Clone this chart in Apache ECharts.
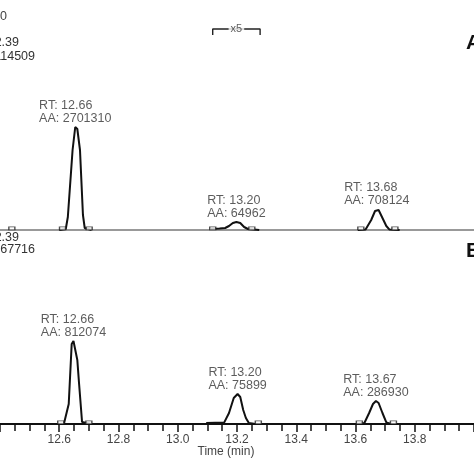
<!DOCTYPE html>
<html lang="en">
<head>
    <meta charset="UTF-8">
    <title>Chromatogram</title>
    <script src="https://cdn.jsdelivr.net/npm/echarts@6/dist/echarts.min.js"></script>
    <style>
        html, body { margin: 0; padding: 0; background: #fff; }
        #main { width: 474px; height: 474px; }
    </style>
</head>
<body>
<div id="main"></div>
<script type="text/javascript">
    // upper trace (A) - time (min) / intensity (% of panel)
    var timeA1 = [12.600, 12.622, 12.629, 12.645, 12.654, 12.661, 12.670, 12.680, 12.686, 12.709];
    var valueA1 = [0, 0.5, 6.5, 40, 51.5, 50.5, 40, 7.5, 1, 0];
    var timeA2 = [13.112, 13.141, 13.160, 13.173, 13.186, 13.198, 13.211, 13.224, 13.237, 13.256, 13.275];
    var valueA2 = [0.5, 0.7, 1, 2, 3.5, 4, 3.5, 1.5, 0.5, 0.3, 0];
    var timeA3 = [13.608, 13.634, 13.653, 13.666, 13.672, 13.678, 13.691, 13.704, 13.714, 13.749];
    var valueA3 = [0, 0.3, 5, 9.5, 10.5, 10, 6, 2, 0.3, 0];

    // lower trace (B)
    var timeB1 = [12.590, 12.616, 12.632, 12.642, 12.648, 12.654, 12.661, 12.667, 12.677, 12.709];
    var valueB1 = [0, 0.3, 10, 40, 41.5, 41.5, 32, 20, 1, 0];
    var timeB2 = [13.096, 13.157, 13.173, 13.189, 13.202, 13.211, 13.221, 13.230, 13.240, 13.262];
    var valueB2 = [0.5, 0.8, 5.5, 13, 15, 13.5, 7, 3, 0.5, 0];
    var timeB3 = [13.602, 13.630, 13.646, 13.659, 13.669, 13.678, 13.691, 13.704, 13.720];
    var valueB3 = [0, 0.5, 5.5, 10, 11.5, 10.5, 5.5, 0.8, 0];

    // peak labels
    var rtA = ['12.66', '13.20', '13.68'];
    var areaA = ['2701310', '64962', '708124'];
    var rtB = ['12.66', '13.20', '13.67'];
    var areaB = ['812074', '75899', '286930'];

    // integration start/end markers
    var markTimesA = [12.440, 12.611, 12.701, 13.118, 13.250, 13.618, 13.733];
    var markTimesB = [12.605, 12.700, 13.272, 13.613, 13.728];

    // x5 zoomed region of trace A
    var foldRange = [13.118, 13.278];
    var foldLabel = 'x5';

    var xMin = 12.4, xMax = 14.0, xStep = 0.2;

    var font = '"Liberation Sans", Arial, sans-serif';
    var clear = 'rgba(0,0,0,0)';
    var chart = echarts.init(document.getElementById('main'));

    function pairs(t, v) {
        return t.map(function (x, i) { return [x, v[i]]; });
    }
    function apex(t, v) {
        var k = v.indexOf(Math.max.apply(null, v));
        return [t[k], v[k]];
    }
    function traceSeries(t, v, idx) {
        return {
            type: 'line', xAxisIndex: idx, yAxisIndex: idx,
            data: pairs(t, v), showSymbol: false, smooth: false,
            lineStyle: {color: '#111', width: 2}, z: 3, silent: true
        };
    }
    function labelSeries(segs, rts, areas, idx) {
        return {
            type: 'scatter', xAxisIndex: idx, yAxisIndex: idx,
            symbolSize: 1, itemStyle: {color: clear}, z: 5, silent: true,
            data: segs.map(function (s, i) {
                return {value: apex(s[0], s[1]), rt: rts[i], area: areas[i]};
            }),
            label: {
                show: true, position: 'top', distance: 1, align: 'center',
                formatter: function (p) {
                    return '{t|RT: ' + p.data.rt + '}\n{t|AA: ' + p.data.area + '}';
                },
                rich: {t: {align: 'left', fontSize: 12.5, lineHeight: 13, color: '#333', fontFamily: font}}
            }
        };
    }
    function markSeries(times, idx) {
        return {
            type: 'scatter', xAxisIndex: idx, yAxisIndex: idx, z: 4, silent: true,
            symbol: 'rect', symbolSize: [6, 3],
            itemStyle: {color: '#fff', borderColor: '#222', borderWidth: 1},
            data: times.map(function (x) { return [x, 0.8]; })
        };
    }

    var segsA = [[timeA1, valueA1], [timeA2, valueA2], [timeA3, valueA3]];
    var segsB = [[timeB1, valueB1], [timeB2, valueB2], [timeB3, valueB3]];

    var series = [];
    segsA.forEach(function (s) { series.push(traceSeries(s[0], s[1], 0)); });
    segsB.forEach(function (s) { series.push(traceSeries(s[0], s[1], 1)); });
    series.push(labelSeries(segsA, rtA, areaA, 0));
    series.push(labelSeries(segsB, rtB, areaB, 1));
    series.push(markSeries(markTimesA, 0));
    series.push(markSeries(markTimesB, 1));

    // bracket over the x5 region
    series.push({
        type: 'line', xAxisIndex: 0, yAxisIndex: 0, showSymbol: false, silent: true,
        data: [[foldRange[0], 97.5], [foldRange[0], 100.5], [foldRange[1], 100.5], [foldRange[1], 97.5]],
        lineStyle: {color: '#222', width: 1.4}, z: 3
    });
    series.push({
        type: 'scatter', xAxisIndex: 0, yAxisIndex: 0, symbolSize: 1, itemStyle: {color: clear}, z: 6, silent: true,
        data: [[(foldRange[0] + foldRange[1]) / 2, 100.5]],
        label: {
            show: true, position: 'inside', formatter: foldLabel,
            fontSize: 11, color: '#333', fontFamily: font,
            backgroundColor: '#fff', padding: [0, 2]
        }
    });

    var txt = '12.5px ' + font;

    chart.setOption({
        animation: false,
        backgroundColor: '#fff',
        grid: [
            {left: -9.5, right: -16.5, top: 20, height: 210},
            {left: -9.5, right: -16.5, top: 214, height: 210}
        ],
        xAxis: [
            {
                gridIndex: 0, type: 'value', min: xMin, max: xMax, interval: xStep,
                axisLine: {lineStyle: {color: '#777', width: 1.5}},
                axisTick: {show: false}, axisLabel: {show: false}, splitLine: {show: false}
            },
            {
                gridIndex: 1, type: 'value', min: xMin, max: xMax, interval: xStep,
                axisLine: {lineStyle: {color: '#111', width: 2}},
                axisTick: {show: true, length: 8, lineStyle: {color: '#111', width: 1.5}},
                minorTick: {show: true, splitNumber: 4, length: 7, lineStyle: {color: '#111', width: 1.5}},
                axisLabel: {
                    margin: 10, fontSize: 12, color: '#444', fontFamily: font,
                    showMinLabel: false, showMaxLabel: false,
                    formatter: function (v) { return v.toFixed(1); }
                },
                splitLine: {show: false}
            }
        ],
        yAxis: [
            {gridIndex: 0, type: 'value', min: 0, max: 105, show: false},
            {gridIndex: 1, type: 'value', min: 0, max: 105, show: false}
        ],
        graphic: [
            {type: 'text', x: 7, y: 17, style: {text: '100', align: 'right', verticalAlign: 'middle', font: txt, fill: '#444'}},
            {type: 'text', x: 19, y: 43, style: {text: 'RT: 12.39', align: 'right', verticalAlign: 'middle', font: txt, fill: '#333'}},
            {type: 'text', x: 35, y: 57, style: {text: 'AA: 3114509', align: 'right', verticalAlign: 'middle', font: txt, fill: '#333'}},
            {type: 'text', x: 19, y: 238, style: {text: 'RT: 12.39', align: 'right', verticalAlign: 'middle', font: txt, fill: '#333'}},
            {type: 'text', x: 35, y: 250, style: {text: 'AA: 2367716', align: 'right', verticalAlign: 'middle', font: txt, fill: '#333'}},
            {type: 'text', x: 466, y: 43, style: {text: 'A', align: 'left', verticalAlign: 'middle', font: 'bold 21px ' + font, fill: '#111'}},
            {type: 'text', x: 466, y: 251, style: {text: 'B', align: 'left', verticalAlign: 'middle', font: 'bold 21px ' + font, fill: '#111'}},
            {type: 'text', x: 226, y: 452, style: {text: 'Time (min)', align: 'center', verticalAlign: 'middle', font: '12px ' + font, fill: '#444'}}
        ],
        series: series
    });
</script>
</body>
</html>
